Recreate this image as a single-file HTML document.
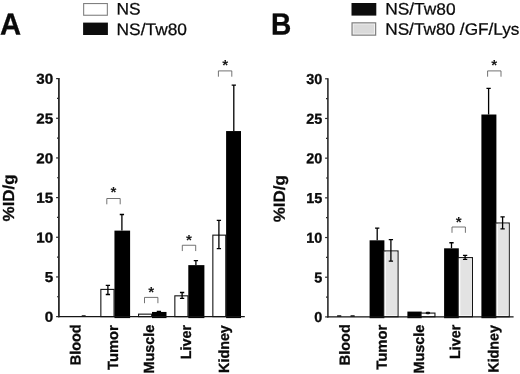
<!DOCTYPE html>
<html lang="en">
<head>
<meta charset="utf-8">
<title>Biodistribution %ID/g</title>
<style>
html,body{margin:0;padding:0;background:#fff;}
body{width:520px;height:374px;overflow:hidden;}
svg{display:block;}
text{font-family:"Liberation Sans",Arial,Helvetica,sans-serif;fill:#0a0a0a;}
.pl{font-size:30.4px;font-weight:bold;stroke:#0a0a0a;stroke-width:0.3px;}
.tk{font-size:14.5px;font-weight:bold;stroke:#0a0a0a;stroke-width:0.3px;}
.xl{font-size:14px;font-weight:bold;stroke:#0a0a0a;stroke-width:0.3px;}
.yl{font-size:16px;font-weight:bold;stroke:#0a0a0a;stroke-width:0.3px;}
.lg{font-size:16.6px;stroke:#0a0a0a;stroke-width:0.25px;}
.st{font-size:15.2px;font-weight:bold;fill:#1a1a1a;}
</style>
</head>
<body>
<svg width="520" height="374" viewBox="0 0 520 374">
<rect width="520" height="374" fill="#fff"/>
<!-- panel letters -->
<text transform="translate(-0.1 34.6) rotate(0.03) scale(0.962 1)" class="pl">A</text>
<text transform="translate(270.9 34.6) rotate(0.03) scale(0.925 1)" class="pl">B</text>
<!-- legends -->
<rect x="83.65" y="3.55" width="23.7" height="11.7" fill="#fff" stroke="#808080" stroke-width="1.1"/>
<rect x="83.1" y="22.6" width="24.8" height="12.4" fill="#0d0d0d"/>
<text transform="translate(116.6 14.6) rotate(0.03) scale(1.045 1)" class="lg">NS</text>
<text transform="translate(116.6 34.9) rotate(0.03) scale(1.045 1)" class="lg">NS/Tw80</text>
<rect x="351.5" y="3" width="24.8" height="12.6" fill="#0d0d0d"/>
<rect x="352.05" y="22.85" width="23.6" height="12.3" fill="#f4f4f4" stroke="#7d7d7d" stroke-width="1.2"/>
<rect x="353.6" y="24.4" width="20.5" height="9.2" fill="#dadada"/>
<text transform="translate(385.2 14.6) rotate(0.03) scale(1.045 1)" class="lg">NS/Tw80</text>
<text transform="translate(385.2 34.7) rotate(0.03) scale(1.038 1)" class="lg">NS/Tw80 /GF/Lys</text>
<!-- y labels -->
<text transform="translate(14.0 197.9) rotate(-89.95) scale(1.06 1.0)" text-anchor="middle" class="yl">%ID/g</text>
<text transform="translate(284.8 198.7) rotate(-89.95) scale(1.06 1.0)" text-anchor="middle" class="yl">%ID/g</text>
<!-- left chart -->
<rect x="81.60" y="315.15" width="4.20" height="1.5" rx="0.6" fill="#111"/>
<rect x="100.85" y="289.40" width="13.20" height="27.25" fill="#fff" stroke="#141414" stroke-width="1.1"/>
<path d="M107.90 284.81V295.04M105.75 285.36H110.05M105.75 294.49H110.05" stroke="#000" stroke-width="1.3" fill="none"/>
<rect x="114.45" y="230.62" width="15.65" height="87.48" fill="#000"/>
<path d="M121.90 213.96V230.62M119.75 214.51H124.05" stroke="#000" stroke-width="1.3" fill="none"/>
<rect x="138.55" y="314.15" width="13.10" height="2.50" fill="#fff" stroke="#141414" stroke-width="1.1"/>
<rect x="152.00" y="311.94" width="14.50" height="6.16" fill="#000"/>
<path d="M158.90 310.91V311.94M156.75 311.46H161.05" stroke="#000" stroke-width="1.3" fill="none"/>
<rect x="174.85" y="295.83" width="13.10" height="20.82" fill="#fff" stroke="#141414" stroke-width="1.1"/>
<path d="M182.10 291.95V298.85M179.95 292.50H184.25M179.95 298.30H184.25" stroke="#000" stroke-width="1.3" fill="none"/>
<rect x="188.30" y="265.13" width="16.10" height="52.97" fill="#000"/>
<path d="M195.90 259.98V265.13M193.75 260.53H198.05" stroke="#000" stroke-width="1.3" fill="none"/>
<rect x="212.85" y="235.14" width="12.90" height="81.51" fill="#fff" stroke="#141414" stroke-width="1.1"/>
<path d="M218.90 219.76V249.11M216.75 220.31H221.05M216.75 248.56H221.05" stroke="#000" stroke-width="1.3" fill="none"/>
<rect x="226.10" y="131.06" width="14.90" height="187.04" fill="#000"/>
<path d="M233.80 84.66V131.06M231.65 85.21H235.95" stroke="#000" stroke-width="1.3" fill="none"/>
<path d="M58.90 78.01V317.30" stroke="#2b2b2b" stroke-width="1.8" fill="none"/>
<path d="M58.00 316.65H244.80" stroke="#151515" stroke-width="1.25" fill="none"/>
<path d="M56.10 316.60H58.90" stroke="#2b2b2b" stroke-width="1.2"/>
<text transform="translate(53.30 321.80) rotate(0.04) scale(1.05 1)" text-anchor="end" class="tk">0</text>
<path d="M57.00 296.77H58.90" stroke="#2b2b2b" stroke-width="1.2"/>
<path d="M56.10 276.94H58.90" stroke="#2b2b2b" stroke-width="1.2"/>
<text transform="translate(53.30 282.13) rotate(0.04) scale(1.05 1)" text-anchor="end" class="tk">5</text>
<path d="M57.00 257.10H58.90" stroke="#2b2b2b" stroke-width="1.2"/>
<path d="M56.10 237.27H58.90" stroke="#2b2b2b" stroke-width="1.2"/>
<text transform="translate(53.30 242.47) rotate(0.04) scale(1.05 1)" text-anchor="end" class="tk">10</text>
<path d="M57.00 217.44H58.90" stroke="#2b2b2b" stroke-width="1.2"/>
<path d="M56.10 197.61H58.90" stroke="#2b2b2b" stroke-width="1.2"/>
<text transform="translate(53.30 202.81) rotate(0.04) scale(1.05 1)" text-anchor="end" class="tk">15</text>
<path d="M57.00 177.77H58.90" stroke="#2b2b2b" stroke-width="1.2"/>
<path d="M56.10 157.94H58.90" stroke="#2b2b2b" stroke-width="1.2"/>
<text transform="translate(53.30 163.14) rotate(0.04) scale(1.05 1)" text-anchor="end" class="tk">20</text>
<path d="M57.00 138.11H58.90" stroke="#2b2b2b" stroke-width="1.2"/>
<path d="M56.10 118.28H58.90" stroke="#2b2b2b" stroke-width="1.2"/>
<text transform="translate(53.30 123.48) rotate(0.04) scale(1.05 1)" text-anchor="end" class="tk">25</text>
<path d="M57.00 98.44H58.90" stroke="#2b2b2b" stroke-width="1.2"/>
<path d="M56.10 78.61H58.90" stroke="#2b2b2b" stroke-width="1.2"/>
<text transform="translate(53.30 83.81) rotate(0.04) scale(1.05 1)" text-anchor="end" class="tk">30</text>
<path d="M106.80 204.30V198.50H120.20V204.30" stroke="#5a5a5a" stroke-width="0.85" fill="none"/>
<text x="113.50" y="197.00" text-anchor="middle" class="st">*</text>
<path d="M144.50 303.20V297.40H157.90V303.20" stroke="#5a5a5a" stroke-width="0.85" fill="none"/>
<text x="151.20" y="297.20" text-anchor="middle" class="st">*</text>
<path d="M182.30 251.05V245.25H195.70V251.05" stroke="#5a5a5a" stroke-width="0.85" fill="none"/>
<text x="189.00" y="244.70" text-anchor="middle" class="st">*</text>
<path d="M218.40 76.70V70.90H231.80V76.70" stroke="#5a5a5a" stroke-width="0.85" fill="none"/>
<text x="225.10" y="70.00" text-anchor="middle" class="st">*</text>
<text transform="translate(80.50 324.30) rotate(-89.95) scale(1.034 1.05)" text-anchor="end" class="xl">Blood</text>
<text transform="translate(117.95 325.20) rotate(-89.95) scale(1.052 1.05)" text-anchor="end" class="xl">Tumor</text>
<text transform="translate(154.00 324.85) rotate(-89.95) scale(1.027 1.05)" text-anchor="end" class="xl">Muscle</text>
<text transform="translate(191.00 325.00) rotate(-89.95) scale(1.022 1.05)" text-anchor="end" class="xl">Liver</text>
<text transform="translate(229.00 325.20) rotate(-89.95) scale(1.023 1.05)" text-anchor="end" class="xl">Kidney</text>
<!-- right chart -->
<rect x="337.00" y="315.25" width="4.40" height="1.5" rx="0.6" fill="#111"/>
<rect x="350.40" y="315.25" width="4.40" height="1.5" rx="0.6" fill="#111"/>
<rect x="369.60" y="240.31" width="14.80" height="77.89" fill="#000"/>
<path d="M377.20 227.53V240.31M375.05 228.08H379.35" stroke="#000" stroke-width="1.3" fill="none"/>
<rect x="383.75" y="250.94" width="14.30" height="65.81" fill="#fff" stroke="#141414" stroke-width="1.1"/>
<rect x="385.90" y="251.79" width="11.20" height="63.66" fill="#e3e3e3"/>
<path d="M390.90 239.12V261.66M388.75 239.67H393.05M388.75 261.11H393.05" stroke="#000" stroke-width="1.3" fill="none"/>
<rect x="407.40" y="311.58" width="14.30" height="6.62" fill="#000"/>
<rect x="421.05" y="313.08" width="13.90" height="3.67" fill="#fff" stroke="#141414" stroke-width="1.1"/>
<rect x="425.70" y="311.63" width="4.4" height="2.5" rx="1.1" fill="#111"/>
<rect x="444.10" y="248.32" width="14.70" height="69.88" fill="#000"/>
<path d="M451.50 242.21V248.32M449.35 242.76H453.65" stroke="#000" stroke-width="1.3" fill="none"/>
<rect x="458.15" y="257.61" width="14.30" height="59.14" fill="#fff" stroke="#141414" stroke-width="1.1"/>
<rect x="460.30" y="258.46" width="11.20" height="56.99" fill="#e3e3e3"/>
<path d="M465.10 254.91V259.91M462.95 255.46H467.25M462.95 259.36H467.25" stroke="#000" stroke-width="1.3" fill="none"/>
<rect x="481.40" y="114.51" width="15.00" height="203.69" fill="#000"/>
<path d="M488.60 87.92V114.51M486.45 88.47H490.75" stroke="#000" stroke-width="1.3" fill="none"/>
<rect x="495.75" y="223.00" width="13.50" height="93.75" fill="#fff" stroke="#141414" stroke-width="1.1"/>
<rect x="497.90" y="223.85" width="10.40" height="91.60" fill="#e3e3e3"/>
<path d="M502.60 216.34V229.35M500.45 216.89H504.75M500.45 228.80H504.75" stroke="#000" stroke-width="1.3" fill="none"/>
<path d="M327.90 78.19V317.40" stroke="#2b2b2b" stroke-width="1.6" fill="none"/>
<path d="M327.00 316.75H513.60" stroke="#151515" stroke-width="1.25" fill="none"/>
<path d="M325.10 316.90H327.90" stroke="#2b2b2b" stroke-width="1.2"/>
<text transform="translate(322.30 322.10) rotate(0.04) scale(0.995 1)" text-anchor="end" class="tk">0</text>
<path d="M326.00 297.06H327.90" stroke="#2b2b2b" stroke-width="1.2"/>
<path d="M325.10 277.21H327.90" stroke="#2b2b2b" stroke-width="1.2"/>
<text transform="translate(322.30 282.41) rotate(0.04) scale(0.995 1)" text-anchor="end" class="tk">5</text>
<path d="M326.00 257.37H327.90" stroke="#2b2b2b" stroke-width="1.2"/>
<path d="M325.10 237.53H327.90" stroke="#2b2b2b" stroke-width="1.2"/>
<text transform="translate(322.30 242.73) rotate(0.04) scale(0.995 1)" text-anchor="end" class="tk">10</text>
<path d="M326.00 217.69H327.90" stroke="#2b2b2b" stroke-width="1.2"/>
<path d="M325.10 197.84H327.90" stroke="#2b2b2b" stroke-width="1.2"/>
<text transform="translate(322.30 203.04) rotate(0.04) scale(0.995 1)" text-anchor="end" class="tk">15</text>
<path d="M326.00 178.00H327.90" stroke="#2b2b2b" stroke-width="1.2"/>
<path d="M325.10 158.16H327.90" stroke="#2b2b2b" stroke-width="1.2"/>
<text transform="translate(322.30 163.36) rotate(0.04) scale(0.995 1)" text-anchor="end" class="tk">20</text>
<path d="M326.00 138.32H327.90" stroke="#2b2b2b" stroke-width="1.2"/>
<path d="M325.10 118.47H327.90" stroke="#2b2b2b" stroke-width="1.2"/>
<text transform="translate(322.30 123.67) rotate(0.04) scale(0.995 1)" text-anchor="end" class="tk">25</text>
<path d="M326.00 98.63H327.90" stroke="#2b2b2b" stroke-width="1.2"/>
<path d="M325.10 78.79H327.90" stroke="#2b2b2b" stroke-width="1.2"/>
<text transform="translate(322.30 83.99) rotate(0.04) scale(0.995 1)" text-anchor="end" class="tk">30</text>
<path d="M452.00 232.80V227.00H465.40V232.80" stroke="#5a5a5a" stroke-width="0.85" fill="none"/>
<text x="458.70" y="226.50" text-anchor="middle" class="st">*</text>
<path d="M487.60 76.70V70.90H501.00V76.70" stroke="#5a5a5a" stroke-width="0.85" fill="none"/>
<text x="494.30" y="70.00" text-anchor="middle" class="st">*</text>
<text transform="translate(349.80 324.20) rotate(-89.95) scale(1.037 1.05)" text-anchor="end" class="xl">Blood</text>
<text transform="translate(386.85 324.80) rotate(-89.95) scale(1.058 1.05)" text-anchor="end" class="xl">Tumor</text>
<text transform="translate(424.00 324.85) rotate(-89.95) scale(1.026 1.05)" text-anchor="end" class="xl">Muscle</text>
<text transform="translate(460.15 324.80) rotate(-89.95) scale(1.02 1.05)" text-anchor="end" class="xl">Liver</text>
<text transform="translate(498.55 325.00) rotate(-89.95) scale(1.022 1.05)" text-anchor="end" class="xl">Kidney</text>
</svg>
</body>
</html>
